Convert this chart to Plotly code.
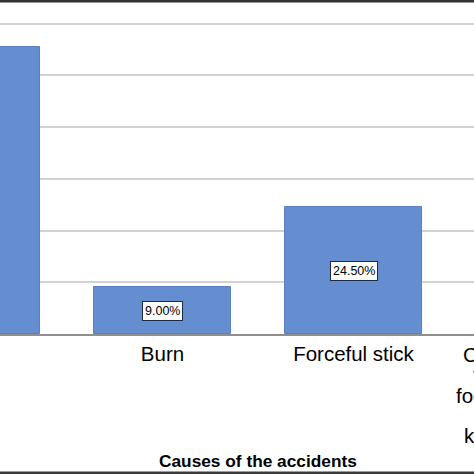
import plotly.graph_objects as go

# causes of the accidents (share of cases, %)
categories = ["Fall", "Burn", "Forceful stick", "Cut"]
values = [55.5, 9.0, 24.5, 11.0]
value_labels = ["55.50%", "9.00%", "24.50%", "11.00%"]
last_label_lines = ["Cut wounds due to", "the sharp blades", "food processors and",
                    "other", "kitchen appliances"]
x_title = "Causes of the accidents"

W, H = 474, 474
BASE = 334                      # pixel row of the x axis
PX_PER_CAT = 191
x0 = 1 - 162.5 / PX_PER_CAT      # crop: "Burn" sits at 162.5 px
x1 = x0 + W / PX_PER_CAT
y_top = BASE / 5.175

bar_color = "#648ed0"
font = "Liberation Sans, Arial, sans-serif"

xs = list(range(len(categories)))

fig = go.Figure(go.Bar(
    x=xs, y=values, width=137 / PX_PER_CAT,
    marker=dict(color=bar_color, line=dict(color="#5a80c2", width=1)),
    hoverinfo="skip",
))

# value boxes in the middle of each bar
for x, v, lab in zip(xs, values, value_labels):
    fig.add_annotation(x=x, y=v / 2, xref="x", yref="y", text=lab, showarrow=False,
                       font=dict(family=font, size=12.5, color="#000"),
                       bgcolor="white", bordercolor="#1c2a44", borderwidth=1, borderpad=2)

# the last category sits outside the crop, only its left edge shows
# (SPSS wraps it with tight line spacing, so one annotation per line)
last_x = (xs[-1] - x0) / (x1 - x0)
for i, line in enumerate(last_label_lines):
    fig.add_annotation(x=last_x, y=0, xref="paper", yref="paper", text=line,
                       showarrow=False, xanchor="center", yanchor="middle",
                       xshift=4, yshift=-(20 + i * 20.25), height=20,
                       font=dict(family=font, size=20.5, color="#000"))

fig.add_annotation(x=258 / W, y=0, xref="paper", yref="paper", text="<b>" + x_title + "</b>",
                   showarrow=False, xanchor="center", yanchor="middle", yshift=-127,
                   font=dict(family=font, size=17.3, color="#000"))

# dark frame lines at top and bottom of the crop
fig.add_shape(type="line", xref="paper", yref="paper", x0=0, x1=1, y0=1, y1=1,
              line=dict(color="#333", width=5))
fig.add_shape(type="line", xref="paper", yref="paper", x0=0, x1=1,
              y0=-(473 - BASE) / BASE, y1=-(473 - BASE) / BASE,
              line=dict(color="#3a3a3a", width=3))

fig.update_xaxes(range=[x0, x1], tickvals=xs, ticktext=categories, ticks="",
                 showgrid=False, zeroline=False, showline=True, linecolor="#8f8f8f",
                 linewidth=1.5, tickfont=dict(family=font, size=20.5, color="#000"),
                 ticklabelstandoff=1)
fig.update_yaxes(range=[0, y_top], dtick=10, showticklabels=False, ticks="",
                 showgrid=True, gridcolor="#d2d2d2", gridwidth=1.5, zeroline=False)

fig.update_layout(width=W, height=H, margin=dict(l=0, r=0, t=0, b=H - BASE, pad=0),
                  plot_bgcolor="white", paper_bgcolor="white", showlegend=False,
                  bargap=0)

# drop the default page margin so the chart fills the window
fig.write_html("out.html", config={"displayModeBar": False},
               post_script="document.body.style.margin='0';")
